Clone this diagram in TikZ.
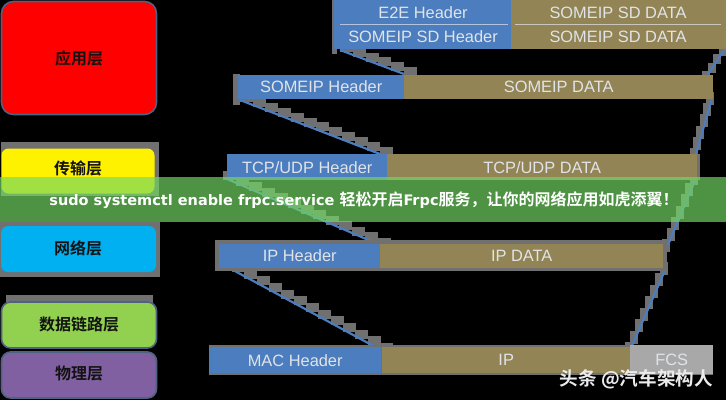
\documentclass[tikz,border=0pt]{standalone}
\usepackage{fontspec}
\usetikzlibrary{calc}
\setmainfont{Liberation Sans}
\newfontfamily\cjk{Noto Sans CJK SC}[BoldFont={* Bold}]
\newfontfamily\bannerlatin{DejaVu Sans}[BoldFont={* Bold}]
\definecolor{hblue}{RGB}{76,125,190}
\definecolor{dolive}{RGB}{146,132,84}
\definecolor{fgray}{RGB}{168,168,168}
\definecolor{rimgray}{RGB}{112,112,112}
\definecolor{rim}{RGB}{78,98,130}
\definecolor{lbl}{RGB}{224,228,232}
\definecolor{banner}{RGB}{115,216,100}
\tikzset{x=1pt,y=-1pt,
 layerbox/.style={rounded corners=12pt,draw=rim,line width=1.6pt,minimum width=155pt},
 layertext/.style={font=\cjk\bfseries\fontsize{16}{18}\selectfont,text=black!85!gray},
 head/.style={fill=hblue,text=lbl,font=\fontsize{16.4}{18}\selectfont,inner sep=0pt,anchor=north west},
 dat/.style={fill=dolive,text=lbl,font=\fontsize{16.4}{18}\selectfont,inner sep=0pt,anchor=north west},
 celltext/.style={text=lbl,font=\fontsize{16.4}{18}\selectfont},
 link/.style={draw=hblue,line width=2.2pt},
}
\newcommand{\bl}{\bannerlatin\bfseries\fontsize{14.5}{16}\selectfont}
\newcommand{\bc}{\cjk\bfseries\fontsize{16}{16}\selectfont}
\newcommand{\stairs}[7]{%
 \foreach \st in {0,...,#3}{
  \pgfmathsetmacro{\frc}{\st/#3}
  \fill[rimgray] ($(#1)!\frc!(#2)+(#6,#7)$) rectangle +(#4,#5);
 }}
\begin{document}
\begin{tikzpicture}
\useasboundingbox (0,0) rectangle (726,400);
\fill[black] (0,0) rectangle (726,400);
% layers
\node[layerbox,fill=red,minimum height=113pt,anchor=center] (app) at (79,58) {};
\node[layertext] at (app.center) {应用层};
\fill[rimgray] (1,142) rectangle (159,196);
\node[layerbox,fill=yellow,minimum height=45pt,minimum width=153pt,rounded corners=7pt,draw=none] (trans) at (78,171) {};
\node[layertext] at (78,168) {传输层};
\fill[rimgray] (0,222) rectangle (160,277);
\node[layerbox,fill={rgb,255:red,0;green,176;blue,240},minimum height=46pt,minimum width=155pt,rounded corners=7pt,draw=none] (net) at (78.5,249) {};
\node[layertext] at (78,248) {网络层};
\fill[rimgray] (6,295) rectangle (153,305);
\node[layerbox,fill={rgb,255:red,146;green,208;blue,80},minimum height=46pt,rounded corners=9pt] (link) at (79,325) {};
\node[layertext] at (79,324) {数据链路层};
\node[layerbox,fill={rgb,255:red,128;green,96;blue,160},minimum height=46pt,rounded corners=9pt] (phy) at (79,375) {};
\node[layertext] at (79,374) {物理层};
% connectors
\coordinate (a1) at (340,50); \coordinate (a2) at (404,74);
\coordinate (a3) at (725,49); \coordinate (a4) at (708,74);
\coordinate (b1) at (240,100); \coordinate (b2) at (380,154);
\coordinate (b3) at (712,98); \coordinate (b4) at (696,154);
\coordinate (c1) at (225,178); \coordinate (c2) at (380,245);
\coordinate (c3) at (696,178); \coordinate (c4) at (668,245);
\coordinate (d1) at (233,270); \coordinate (d2) at (381,350);
\coordinate (d3) at (666,268); \coordinate (d4) at (631,348);
\stairs{a1}{a2}{5}{13}{9}{0}{-7}
\stairs{b1}{b2}{11}{13}{9}{0}{-7}
\stairs{c1}{c2}{12}{13}{9}{-2}{-7}
\stairs{d1}{d2}{12}{13}{9}{-1}{-7}
\stairs{a3}{a4}{3}{8}{10}{-6}{-3}
\stairs{b3}{b4}{5}{8}{13}{-6}{-6}
\stairs{c3}{c4}{6}{8}{13}{-6}{-6}
\stairs{d3}{d4}{7}{8}{13}{-6}{-6}
\foreach \p/\q in {a1/a2,a3/a4,b1/b2,b3/b4,c1/c2,c3/c4,d1/d2,d3/d4}{
 \draw[link] (\p) -- (\q);
}
% row backings
\fill[rimgray] (332,0) rectangle (337,54);
\fill[rimgray] (233,74) rectangle (240,105);
\fill[rimgray] (693,154) rectangle (700,180);
\fill[rimgray] (215,240) rectangle (667,271);
\fill[rimgray] (209,345) rectangle (713,375);
% rows
\node[head,minimum width=178pt,minimum height=49pt] (e2e) at (334,0) {};
\node[dat,minimum width=215pt,minimum height=49pt] (sd) at (511,0) {};
\draw[lbl!70!hblue,line width=.7pt] (340,24.5) -- (508,24.5);
\draw[lbl!70!dolive,line width=.7pt] (515,24.5) -- (721,24.5);
\node[celltext] (t1) at (423,13) {E2E Header};
\node[celltext] (t2) at (423,37) {SOMEIP SD Header};
\node[celltext] (t3) at (618,13) {SOMEIP SD DATA};
\node[celltext] (t4) at (618,37) {SOMEIP SD DATA};
\node[head,minimum width=166pt,minimum height=24pt] (someh) at (238,74.5) {\makebox[166pt]{SOMEIP Header}};
\node[dat,minimum width=309pt,minimum height=24pt] (somed) at (404,74.5) {\makebox[309pt]{SOMEIP DATA}};
\node[head,minimum width=160pt,minimum height=26pt] (tcph) at (227,154) {\makebox[160pt]{TCP/UDP Header}};
\node[dat,minimum width=310pt,minimum height=26pt] (tcpd) at (387,154) {\makebox[310pt]{TCP/UDP DATA}};
\node[head,minimum width=161pt,minimum height=24pt] (iph) at (219,243.5) {\makebox[161pt]{IP Header}};
\node[dat,minimum width=283pt,minimum height=24pt] (ipd) at (380,243.5) {\makebox[283pt]{IP DATA}};
\node[head,minimum width=172pt,minimum height=26pt] (mach) at (209,347) {\makebox[172pt]{MAC Header}};
\node[dat,minimum width=248pt,minimum height=26pt] (ipf) at (382,347) {\makebox[248pt]{IP}};
\node[dat,fill=fgray,minimum width=83pt,minimum height=29pt] (fcs) at (630,345) {\makebox[83pt]{FCS}};
% banner
\fill[banner,opacity=.68] (0,177) rectangle (726,222);
\node[text=white,inner sep=0pt] (bt) at (364,200) {\bl sudo systemctl enable frpc.service \bc 轻松开启\bl Frpc\bc 服务，让你的网络应用如虎添翼！};
% watermark
\node[text=white!92!black,font=\cjk\bfseries\fontsize{18.6}{20}\selectfont,anchor=east,inner sep=0pt] (wm) at (713,379) {头条 @汽车架构人};
\end{tikzpicture}
\end{document}
